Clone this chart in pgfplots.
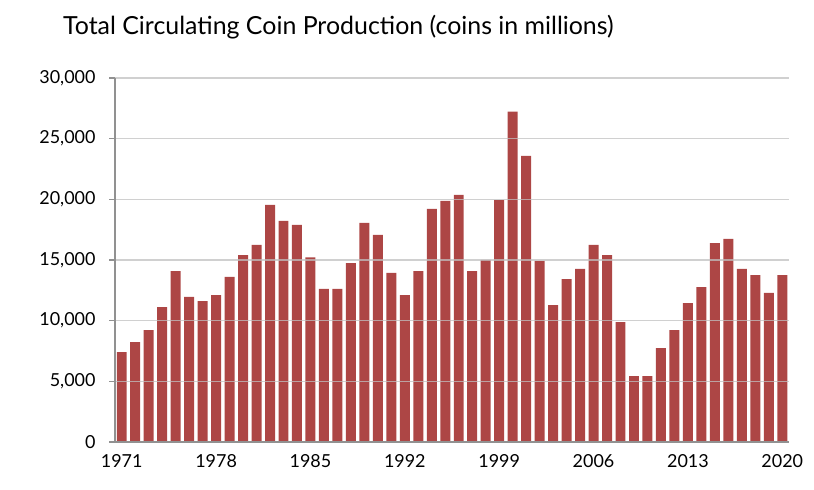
\documentclass[border=0pt]{standalone}
\usepackage{fontspec}
\setmainfont{Lato}
\usepackage{pgfplots}
\pgfplotsset{compat=1.18}
\definecolor{barred}{RGB}{173,70,69}
\definecolor{gridgray}{RGB}{192,192,192}
\definecolor{axisgray}{RGB}{145,145,145}
\pgfplotstableread{
year value
1971 7400
1972 8230
1973 9220
1974 11120
1975 14090
1976 11950
1977 11620
1978 12110
1979 13600
1980 15410
1981 16240
1982 19540
1983 18220
1984 17890
1985 15220
1986 12610
1987 12610
1988 14750
1989 18060
1990 17070
1991 13930
1992 12110
1993 14090
1994 19210
1995 19870
1996 20370
1997 14090
1998 15000
1999 19930
2000 27220
2001 23590
2002 14920
2003 11290
2004 13430
2005 14260
2006 16240
2007 15410
2008 9880
2009 5420
2010 5420
2011 7730
2012 9220
2013 11450
2014 12770
2015 16400
2016 16740
2017 14260
2018 13760
2019 12280
2020 13760
}\coins
\begin{document}
\begin{tikzpicture}[x=1bp,y=1bp]
\path[use as bounding box] (0,0) rectangle (814,490);
\node[anchor=base west, inner sep=0pt, font=\fontsize{25}{29}\selectfont] at (63,455) {Total Circulating Coin Production (coins in millions)};
\begin{axis}[
  at={(115bp,48bp)}, anchor=south west,
  scale only axis, width=674bp, height=364bp,
  xmin=1970.5, xmax=2020.5, ymin=0, ymax=30000,
  ybar, bar width=0.74, bar shift=0pt,
  axis on top,
  axis x line*=bottom, axis y line*=left,
  axis line style={color=axisgray, line width=1.2bp},
  xtick={1971,1978,...,2020},
  xtick style={draw=none},
  ytick={0,5000,...,30000},
  ytick style={color=axisgray, line width=1.2bp},
  tick align=outside, major tick length=6bp,
  ymajorgrids,
  major grid style={color=gridgray, line width=1.5bp, opacity=0.75},
  tick label style={font=\fontsize{18}{20}\selectfont, text=black},
  /pgf/number format/assume math mode=true,
  xticklabel style={/pgf/number format/1000 sep={}, yshift=-3bp},
  yticklabel style={/pgf/number format/fixed, /pgf/number format/1000 sep={,}, xshift=-10bp},
  scaled y ticks=false,
  clip=false,
]
\addplot[fill=barred, draw=none] table[x=year, y=value] {\coins};
\end{axis}
\end{tikzpicture}
\end{document}
